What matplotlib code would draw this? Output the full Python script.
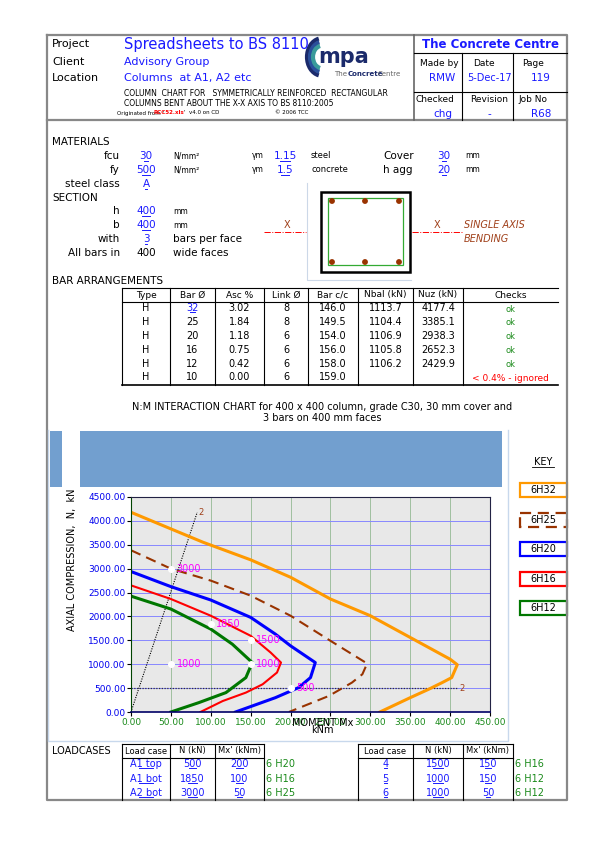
import matplotlib

matplotlib.use("Agg")
import matplotlib.pyplot as plt  # noqa: E402
from matplotlib.patches import Rectangle, Arc, Circle  # noqa: E402

BLUE = "#1a1aff"
GREEN = "#1a8a1a"
BROWN = "#a0401a"

# ---- interaction curves (M kNm, N kN) ----
H32_M = [0, 90, 150, 200, 250, 300, 350, 400, 409, 402, 390, 373, 350, 312]
H32_N = [4180, 3555, 3185, 2820, 2365, 2015, 1560, 1105, 990, 720, 615, 475, 300, 0]
H25_M = [0, 50, 100, 150, 200, 250, 296, 290, 277, 248, 198]
H25_N = [3385, 3000, 2750, 2435, 2015, 1490, 1015, 790, 616, 336, 0]
H20_M = [0, 50, 100, 150, 181, 200, 231, 225, 210, 181, 131]
H20_N = [2940, 2624, 2344, 1980, 1630, 1385, 1035, 720, 510, 300, 0]
H16_M = [0, 50, 100, 150, 175, 188, 183, 165, 144, 115, 87]
H16_N = [2650, 2365, 2015, 1595, 1245, 1035, 826, 580, 406, 230, 0]
H12_M = [0, 50, 100, 127, 152, 144, 119, 85, 50]
H12_N = [2425, 2155, 1735, 1420, 1035, 720, 406, 196, 0]
CURVES = [
    ("6H32", H32_M, H32_N, "#ff9900", "-", 2.2),
    ("6H25", H25_M, H25_N, "#993300", (0, (5, 3)), 1.5),
    ("6H20", H20_M, H20_N, "#0000ff", "-", 2.2),
    ("6H16", H16_M, H16_N, "#ff0000", "-", 1.5),
    ("6H12", H12_M, H12_N, "#007700", "-", 2.2),
]
LC_M = [50, 100, 150, 50, 150, 200]
LC_N = [3000, 1850, 1500, 1000, 1000, 500]
LINE2_M = [0, 83]
LINE2_N = [0, 4180]
LINE_N500 = 500
LINE_N500_END = 410

# ---- bar arrangement table ----
TAB_HEAD = ["Type", "Bar Ø", "Asc %", "Link Ø", "Bar c/c", "Nbal (kN)", "Nuz (kN)", "Checks"]
TAB_BAR = ["32", "25", "20", "16", "12", "10"]
TAB_ASC = ["3.02", "1.84", "1.18", "0.75", "0.42", "0.00"]
TAB_LINK = ["8", "8", "6", "6", "6", "6"]
TAB_CC = ["146.0", "149.5", "154.0", "156.0", "158.0", "159.0"]
TAB_NBAL = ["1113.7", "1104.4", "1106.9", "1105.8", "1106.2", ""]
TAB_NUZ = ["4177.4", "3385.1", "2938.3", "2652.3", "2429.9", ""]
TAB_CHECK = ["ok", "ok", "ok", "ok", "ok", "< 0.4% - ignored"]

LC_NAMES_L = ["A1 top", "A1 bot", "A2 bot"]
LC_N_L = ["500", "1850", "3000"]
LC_M_L = ["200", "100", "50"]
LC_BARS_L = ["6 H20", "6 H16", "6 H25"]
LC_NAMES_R = ["4", "5", "6"]
LC_N_R = ["1500", "1000", "1000"]
LC_M_R = ["150", "150", "50"]
LC_BARS_R = ["6 H16", "6 H12", "6 H12"]

fig = plt.figure(figsize=(5.95, 8.42), dpi=100)
pg = fig.add_axes([0, 0, 1, 1])
pg.set_xlim(0, 595)
pg.set_ylim(842, 0)
pg.axis("off")


def T(x, y, s, size=7, color="black", ha="left", **kw):
    pg.text(x, y, s, fontsize=size, color=color, ha=ha, va="center", **kw)


def U(x, y, s, size=7, color=BLUE):
    # underlined blue input cell
    pg.text(x, y, s, fontsize=size, color=color, ha="center", va="center")
    w = len(s) * size * 0.33
    pg.plot([x - w / 2, x + w / 2], [y + size * 0.6, y + size * 0.6], color=color, lw=0.7)


def L(xs, ys, color="black", lw=0.8, **kw):
    pg.plot(xs, ys, color=color, lw=lw, **kw)


# ---- page frame ----
L([47, 567, 567, 47, 47], [35, 35, 800, 800, 35], color="#888888", lw=1.6)
L([47, 567], [120, 120], color="#888888", lw=1.6)
L([414, 414], [35, 120], color="#666666", lw=1.2)
L([414, 567], [53, 53])
L([414, 567], [92, 92])
L([462, 462], [53, 120])
L([513, 513], [53, 120])

T(52, 44, "Project", 8)
T(52, 62, "Client", 8)
T(52, 78, "Location", 8)
T(124, 44, "Spreadsheets to BS 8110", 10.5, BLUE)
T(124, 62, "Advisory Group", 8, BLUE)
T(124, 78, "Columns  at A1, A2 etc", 8, BLUE)
T(124, 93, "COLUMN  CHART FOR   SYMMETRICALLY REINFORCED  RECTANGULAR", 5.5)
T(124, 103, "COLUMNS BENT ABOUT THE X-X AXIS TO BS 8110:2005", 5.5)
T(117, 113, "Originated from '", 4)
T(169, 113, "RCC52.xls", 4, "red", ha="center", weight="bold")
T(184, 113, "'  v4.0 on CD", 4)
T(292, 113, "© 2006 TCC", 4, ha="center")

# logo
for r, c in [(30, "#1b2a6b"), (24, "#2a4f9a"), (18, "#3a9a9a")]:
    pg.add_patch(Arc((322, 57), r, r * 1.25, theta1=100, theta2=260, color=c, lw=3))
T(318, 57, "mpa", 15, "#1b2a6b", weight="bold")
T(334, 74, "The ", 5, "#666666")
T(348, 74, "Concrete", 5, "#1b2a6b", weight="bold")
T(378, 74, "Centre", 5, "#666666")

T(490, 44, "The Concrete Centre", 8.5, BLUE, ha="center", weight="bold")
T(420, 63, "Made by", 6.5)
T(473, 63, "Date", 6.5)
T(522, 63, "Page", 6.5)
T(442, 78, "RMW", 7.5, BLUE, ha="center")
T(489, 78, "5-Dec-17", 7, BLUE, ha="center")
T(541, 78, "119", 7.5, BLUE, ha="center")
T(416, 100, "Checked", 6.5)
T(470, 100, "Revision", 6.5)
T(518, 100, "Job No", 6.5)
T(443, 114, "chg", 7.5, BLUE, ha="center")
T(489, 114, "-", 7.5, BLUE, ha="center")
T(541, 114, "R68", 7.5, BLUE, ha="center")

# ---- materials / section ----
T(52, 142, "MATERIALS", 7.5)
T(120, 156, "fcu", 7.5, ha="right")
U(146, 156, "30", 7.5)
T(173, 156, "N/mm²", 5.5)
T(252, 156, "γm", 5.5)
U(285, 156, "1.15", 7.5)
T(311, 156, "steel", 6)
T(383, 156, "Cover", 7.5)
U(444, 156, "30", 7.5)
T(465, 156, "mm", 5.5)
T(120, 170, "fy", 7.5, ha="right")
U(146, 170, "500", 7.5)
T(173, 170, "N/mm²", 5.5)
T(252, 170, "γm", 5.5)
U(285, 170, "1.5", 7.5)
T(311, 170, "concrete", 6)
T(383, 170, "h agg", 7.5)
U(444, 170, "20", 7.5)
T(465, 170, "mm", 5.5)
T(120, 184, "steel class", 7.5, ha="right")
U(146, 184, "A", 7.5)
T(52, 198, "SECTION", 7.5)
T(120, 211, "h", 7.5, ha="right")
U(146, 211, "400", 7.5)
T(173, 212, "mm", 5.5)
T(120, 225, "b", 7.5, ha="right")
U(146, 225, "400", 7.5)
T(173, 226, "mm", 5.5)
T(120, 239, "with", 7.5, ha="right")
U(146, 239, "3", 7.5)
T(173, 239, "bars per face", 7.5)
T(120, 253, "All bars in", 7.5, ha="right")
T(146, 253, "400", 7.5, ha="center")
T(173, 253, "wide faces", 7.5)

L([307, 307, 411], [183, 280, 280], color="#ccd8e8", lw=0.8)
pg.add_patch(Rectangle((321, 192), 89, 80, fill=False, ec="black", lw=1.8))
pg.add_patch(Rectangle((328, 198), 75, 67, fill=False, ec="#33aa33", lw=0.9))
for bx in (332, 365, 399):
    for by in (201, 262):
        pg.add_patch(Circle((bx, by), 2.2, color="#993300"))
L([264, 306], [232, 232], color="red", lw=0.7, ls="-.")
L([412, 462], [232, 232], color="red", lw=0.7, ls="-.")
T(287, 225, "X", 7, BROWN, ha="center")
T(437, 225, "X", 7, BROWN, ha="center")
T(464, 225, "SINGLE AXIS", 7, BROWN, style="italic")
T(464, 239, "BENDING", 7, BROWN, style="italic")

# ---- bar arrangements table ----
T(52, 281, "BAR ARRANGEMENTS", 7.5)
cols = [122, 170, 215, 264, 308, 358, 413, 463, 558]
L([122, 558], [288, 288])
L([122, 558], [302, 302])
L([122, 558], [385, 385], lw=1.2)
for cx in cols[:-1]:
    L([cx, cx], [288, 385])
for i, h in enumerate(TAB_HEAD):
    T((cols[i] + cols[i + 1]) / 2, 295, h, 6.5, ha="center")
for r in range(len(TAB_BAR)):
    y = 308 + r * 13.9
    cells = ["H", TAB_BAR[r], TAB_ASC[r], TAB_LINK[r], TAB_CC[r], TAB_NBAL[r], TAB_NUZ[r]]
    for i, s in enumerate(cells):
        xc = (cols[i] + cols[i + 1]) / 2
        if r == 0 and i == 1:
            U(xc, y, s, 7)
        else:
            T(xc, y, s, 7, ha="center")
    ok = TAB_CHECK[r] == "ok"
    T((cols[7] + cols[8]) / 2, y + 1, TAB_CHECK[r], 6 if ok else 6.5,
      GREEN if ok else "red", ha="center")

# ---- chart surround ----
T(322, 407, "N:M INTERACTION CHART for 400 x 400 column, grade C30, 30 mm cover and", 7, ha="center")
T(322, 418, "3 bars on 400 mm faces", 7, ha="center")
pg.add_patch(Rectangle((50, 431), 12, 56, color="#729fcf", lw=0))
pg.add_patch(Rectangle((80, 431), 422, 56, color="#729fcf", lw=0))
L([48, 48, 508, 508], [430, 741, 741, 430], color="#c8d8ec", lw=1)
T(72, 560, "AXIAL COMPRESSION,  N,  kN", 7, ha="center", rotation=90)

T(543, 462, "KEY", 7, ha="center")
pg.plot([532, 554], [467, 467], color="black", lw=0.6)
key_y = [490, 520, 549, 579, 608]
for (name, _, _, c, ls, _), ky in zip(CURVES, key_y):
    pg.add_patch(Rectangle((520, ky - 7), 47, 14, fill=False, ec=c, lw=1.6, ls=ls))
    T(543, ky, name, 7, ha="center")

# ---- loadcases ----
T(52, 751, "LOADCASES", 7)
for xs, names, ns, ms, bars in [
    ([122, 170, 215, 264], LC_NAMES_L, LC_N_L, LC_M_L, LC_BARS_L),
    ([358, 413, 463, 513], LC_NAMES_R, LC_N_R, LC_M_R, LC_BARS_R),
]:
    L([xs[0], xs[-1]], [744, 744])
    L([xs[0], xs[-1]], [758, 758])
    for cx in xs:
        L([cx, cx], [744, 800])
    for i, h in enumerate(["Load case", "N (kN)", "Mx' (kNm)"]):
        T((xs[i] + xs[i + 1]) / 2, 751, h, 6, ha="center")
    for r in range(3):
        y = 764 + r * 14.5
        U((xs[0] + xs[1]) / 2, y, names[r], 7)
        U((xs[1] + xs[2]) / 2, y, ns[r], 7)
        U((xs[2] + xs[3]) / 2, y, ms[r], 7)
        T(xs[3] + 2, y, bars[r], 7, GREEN)

# ---- interaction chart ----
ax = fig.add_axes([131 / 595, 1 - 712 / 842, 359 / 595, 215 / 842])
ax.set_facecolor("#e8e8e8")
ax.set_xlim(0, 450)
ax.set_ylim(0, 4500)
ax.set_xticks(range(0, 451, 50))
ax.set_yticks(range(0, 4501, 500))
ax.set_xticklabels([f"{v:.2f}" for v in range(0, 451, 50)], color=GREEN, fontsize=6.5)
ax.set_yticklabels([f"{v:.2f}" for v in range(0, 4501, 500)], color="#0000ee", fontsize=6.5)
ax.tick_params(length=3, pad=1)
for v in range(50, 450, 50):
    ax.axvline(v, color="#9fbf9f", lw=0.7)
for v in range(500, 4500, 500):
    ax.axhline(v, color="#8888ff", lw=0.7)
for s in ax.spines.values():
    s.set_color("#222244")
ax.spines["left"].set_color("#004400")
ax.spines["bottom"].set_color("#000066")
ax.spines["bottom"].set_linewidth(1.2)

ax.plot(LINE2_M, LINE2_N, color="black", lw=0.8, ls=(0, (1, 1.2)))
ax.plot([0, LINE_N500_END], [LINE_N500, LINE_N500], color="#333333", lw=0.9, ls=(0, (1, 1.2)))
ax.text(LINE2_M[1] + 1, LINE2_N[1], "2", color=BROWN, fontsize=6, va="center")
ax.text(LINE_N500_END + 2, LINE_N500, "2", color=BROWN, fontsize=6, va="center")
for name, m, n, c, ls, lw in CURVES:
    ax.plot(m, n, color=c, ls=ls, lw=lw)
for m, n in zip(LC_M, LC_N):
    ax.plot(m, n, "o", color="white", ms=4)
    ax.text(m + 7, n, str(n), color="#ff00ff", fontsize=7, va="center")
ax.text(240, -220, "MOMENT Mx", fontsize=7, ha="center", va="center", clip_on=False)
ax.text(240, -380, "kNm", fontsize=7, ha="center", va="center", clip_on=False)

fig.savefig("out.png", dpi=100)
